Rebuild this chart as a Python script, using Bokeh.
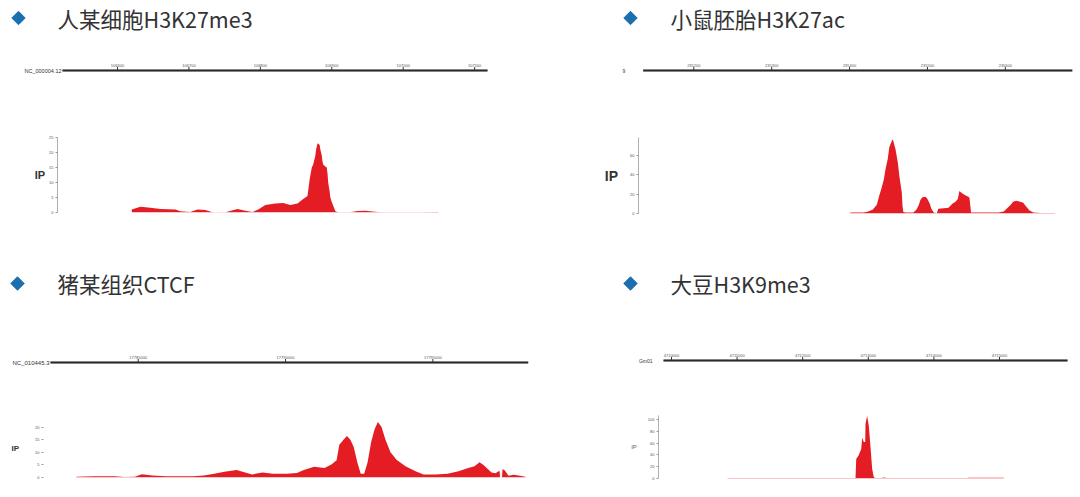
import math
from bokeh.plotting import figure
from bokeh.layouts import column, row
from bokeh.models import Range1d, FixedTicker, Label, LinearAxis
from bokeh.core.properties import value
from bokeh.embed import file_html
from bokeh.resources import INLINE

# ---------------- data ----------------
TITLES = ["人某细胞H3K27me3", "小鼠胚胎H3K27ac", "猪某组织CTCF", "大豆H3K9me3"]
CHROMS = ["NC_000004.12", "9", "NC_010445.3", "Gm01"]

# region shown on each ruler (genomic start / end)
TL_region = [106523, 107118]
TR_region = [235135, 235686]
BL_region = [17782023, 17798237]
BR_region = [4709878, 4716037]

# ruler ticks and labels
TL_ticks = [106600, 106700, 106800, 106900, 107000, 107100]
TL_tick_labels = ["106600", "106700", "106800", "106900", "107000", "107100"]
TR_ticks = [235200, 235300, 235400, 235500, 235600]
TR_tick_labels = ["235200", "235300", "235400", "235500", "235600"]
BL_ticks = [17785000, 17790000, 17795000]
BL_tick_labels = ["17785000", "17790000", "17795000"]
BR_ticks = [4710000, 4711000, 4712000, 4713000, 4714000, 4715000]
BR_tick_labels = ["4710000", "4711000", "4712000", "4713000", "4714000", "4715000"]

# IP y-axis ticks
TL_yticks = [0, 5, 10, 15, 20, 25]
TR_yticks = [0, 20, 40, 60]
BL_yticks = [0, 5, 10, 15, 20]
BR_yticks = [0, 20, 40, 60, 80, 100]

# IP signal (position, value)
TL_x = [106620, 106632, 106646, 106660, 106681, 106688, 106702, 106712, 106723, 106733,
        106751, 106768, 106779, 106789, 106797, 106807, 106821, 106832, 106842, 106852,
        106860, 106866, 106869, 106872, 106874, 106877, 106878, 106880, 106881, 106883,
        106884, 106886, 106887, 106888, 106890, 106893, 106894, 106895, 106897, 106898,
        106900, 106905, 106909, 106926, 106936, 106947, 106957, 106968, 107024, 107049]
TL_y = [1.0, 1.9, 1.6, 1.2, 1.0, 0.4, 0.2, 1.0, 0.8, 0.1,
        0.1, 1.2, 0.6, 0.2, 1.0, 2.5, 3.0, 3.2, 2.5, 3.0,
        4.5, 5.5, 11, 15, 16, 19, 21, 23, 23, 22.5,
        21, 19, 17, 16, 15.5, 15, 13, 10, 7, 5,
        3.5, 0.4, 0.1, 0.1, 0.5, 0.6, 0.3, 0.05, 0.1, 0.2]

TR_x = [235401, 235418, 235424, 235430, 235435, 235438, 235441, 235444, 235446, 235449,
        235451, 235454, 235455, 235456, 235459, 235462, 235464, 235467, 235468, 235469,
        235472, 235482, 235486, 235489, 235491, 235494, 235498, 235500, 235503, 235505,
        235508, 235512, 235514, 235521, 235527, 235532, 235536, 235539, 235541, 235544,
        235548, 235553, 235554, 235556, 235568, 235591, 235598, 235603, 235607, 235610,
        235614, 235619, 235623, 235627, 235631, 235636, 235645, 235664]
TR_y = [1, 1, 2, 4, 9, 18, 26, 35, 45, 56,
        68, 74, 76, 75, 66, 52, 38, 22, 8, 1.5,
        1, 1, 4, 9, 14, 17, 17, 15, 10, 5,
        1, 0.3, 5, 5.5, 6, 10, 12, 15, 23, 21,
        19, 17, 16, 1, 1, 1, 2, 6, 9, 12,
        13, 12, 11, 7, 3, 1, 0.5, 0.5]

BL_x = [17782899, 17783483, 17784189, 17784535, 17784888, 17785122, 17785475, 17785944,
        17786409, 17786877, 17787230, 17787579, 17787929, 17788340, 17788632, 17788866,
        17789219, 17789568, 17790037, 17790386, 17790620, 17790973, 17791323, 17791557,
        17791734, 17791825, 17791968, 17792083, 17792202, 17792318, 17792436, 17792552,
        17792670, 17792786, 17792905, 17793020, 17793135, 17793258, 17793393, 17793563,
        17793767, 17794072, 17794412, 17794683, 17795090, 17795498, 17795871, 17796176,
        17796414, 17796584, 17796720, 17796855, 17796991, 17797127, 17797229, 17797269,
        17797280, 17797347, 17797364, 17797432, 17797568, 17797738, 17797907, 17798145]
BL_y = [0.3, 0.5, 0.5, 0.2, 0.3, 1.3, 0.8, 0.5,
        0.5, 0.5, 0.8, 1.5, 2.3, 3, 2, 1.2,
        2, 1.5, 1.5, 1.8, 3, 4.3, 3.8, 5.2,
        6.8, 13, 15, 16.5, 15, 12, 6, 1.5,
        1.5, 6, 14, 19, 22, 20, 15, 10,
        7, 4.5, 2.5, 1.2, 1.2, 1.5, 2.5, 3.7,
        4.5, 6, 5, 3.5, 2, 1.7, 2.5, 2.5,
        0, 0, 3.3, 3, 0.7, 1.1, 0.8, 0.3]

BR_x = [4710854, 4712805, 4712816, 4712855, 4712892, 4712907, 4712931, 4712953, 4712957,
        4712983, 4713008, 4713034, 4713059, 4713084, 4713110, 4713200, 4713236, 4713280,
        4713338, 4714508, 4714520, 4715066]
BR_y = [1, 1, 33, 40, 50, 69, 62, 62, 93,
        106, 89, 53, 16, 2, 1, 1, 1.8, 1,
        0.8, 0.8, 1.2, 1.2]

# ---------------- style / layout ----------------
BLUE = "#1c6fae"
RED = "#e31d23"
TITLE_COLOR = "#333333"
PANEL_W = 540
SMALL_FONT = value("Liberation Sans")
HAS_ORIENT = "axis_label_orientation" in LinearAxis.properties()


def scale(g0, p0, bpp):
    # genomic position at a given page-pixel column
    return lambda px: g0 + (px - p0) * bpp


def base_fig(h, xr, yr, **kw):
    p = figure(width=PANEL_W, height=h, x_range=xr, y_range=yr,
               toolbar_location=None, output_backend="svg",
               outline_line_color=None, background_fill_color="white",
               border_fill_color="white", **kw)
    p.grid.grid_line_color = None
    return p


def header_fig(title, h, ty, dx, tx):
    p = base_fig(h, Range1d(0, PANEL_W), Range1d(h, 0),
                 x_axis_location=None, y_axis_location=None,
                 min_border_left=0, min_border_right=0,
                 min_border_top=0, min_border_bottom=0)
    p.scatter(x=[dx], y=[ty], marker="square", angle=math.pi / 4, size=9.5,
              fill_color=BLUE, line_color=BLUE)
    p.text(x=[tx], y=[ty], text=[title], text_font=value("Noto Sans CJK SC"),
           text_font_size="21.5px", text_baseline="middle", text_align="left",
           text_color=TITLE_COLOR)
    return p


def ruler_fig(h, yl, sc, x0, region, ticks, labels, chrom, chrom_size, chrom_gap):
    xr = Range1d(sc(x0), sc(x0 + PANEL_W))
    p = base_fig(h, xr, Range1d(h, 0),
                 x_axis_location=None, y_axis_location=None,
                 min_border_left=0, min_border_right=0,
                 min_border_top=0, min_border_bottom=0)
    n = len(ticks)
    p.segment(x0=[region[0]], y0=[yl], x1=[region[1]], y1=[yl],
              line_width=3.0, line_color="#a5a5a5")
    p.segment(x0=[region[0]], y0=[yl], x1=[region[1]], y1=[yl],
              line_width=1.3, line_color="#2a2a2a")
    p.segment(x0=ticks, y0=[yl] * n, x1=ticks, y1=[yl - 3.5] * n,
              line_width=1, line_color="#333333")
    p.text(x=ticks, y=[yl - 4] * n, text=labels, text_font=SMALL_FONT,
           text_font_size="4px", text_align="center", text_baseline="bottom",
           text_color="#555555")
    p.text(x=[region[0]], y=[yl], text=[chrom], text_font=SMALL_FONT,
           text_font_size=chrom_size, text_align="right", text_baseline="middle",
           x_offset=-chrom_gap, text_color="#333333")
    return p


def signal_fig(h, top, frame_h, axis_px, sc, x0, ymax, xs, ys, yticks,
               axis_line, ip_size, ip_bold, ip_color, ip_gap):
    xr = Range1d(sc(axis_px), sc(x0 + PANEL_W))
    p = base_fig(h, xr, Range1d(0, ymax),
                 x_axis_location=None, y_axis_location="left",
                 min_border_left=int(round(axis_px - x0)), min_border_right=0,
                 min_border_top=top, min_border_bottom=h - top - frame_h)
    p.varea(x=xs, y1=[0] * len(xs), y2=ys, fill_color=RED)
    ax = p.yaxis[0]
    ax.ticker = FixedTicker(ticks=yticks)
    ax.major_label_text_font_size = "4px"
    ax.major_label_text_font = "Liberation Sans"
    ax.major_label_text_color = "#555555"
    ax.major_label_standoff = 2
    ax.major_tick_out = 2
    ax.major_tick_in = 0
    ax.minor_tick_line_color = None
    ax.major_tick_line_color = "#999999"
    ax.axis_line_color = "#b0b0b0" if axis_line else None
    if HAS_ORIENT:
        ax.axis_label = "IP"
        ax.axis_label_orientation = "horizontal"
        ax.axis_label_text_font_size = ip_size
        ax.axis_label_text_font = "Liberation Sans"
        ax.axis_label_text_font_style = "bold" if ip_bold else "normal"
        ax.axis_label_text_color = ip_color
        ax.axis_label_standoff = ip_gap
    else:
        p.add_layout(Label(x=xr.start, y=ymax / 2, text="IP", x_offset=-14,
                           text_font_size=ip_size,
                           text_font_style="bold" if ip_bold else "normal",
                           text_font="Liberation Sans", text_color=ip_color,
                           text_align="right", text_baseline="middle"))
    return p


sTL = scale(106600, 117, 1.4)
sTR = scale(235200, 693.3, 1.284)
sBL = scale(17785000, 137.7, 33.94)
sBR = scale(4710000, 671, 15.244)

# top-left panel (page rows 0-260)
tl = [header_fig(TITLES[0], 48, 17.5, 18, 57),
      ruler_fig(42, 22, sTL, 0, TL_region, TL_ticks, TL_tick_labels, CHROMS[0], "5.5px", 1),
      signal_fig(170, 47, 75, 57, sTL, 0, 25, TL_x, TL_y, TL_yticks, True,
                 "11px", True, "#333333", 1)]
# top-right panel
tr = [header_fig(TITLES[1], 48, 17.5, 90, 130),
      ruler_fig(42, 22, sTR, 540, TR_region, TR_ticks, TR_tick_labels, CHROMS[1], "5px", 18),
      signal_fig(170, 47, 76, 638, sTR, 540, 78, TR_x, TR_y, TR_yticks, True,
                 "14px", True, "#333333", 9)]
# bottom-left panel (page rows 260-496)
bl = [header_fig(TITLES[2], 70, 23, 17, 57),
      ruler_fig(52, 32, sBL, 0, BL_region, BL_ticks, BL_tick_labels, CHROMS[2], "6px", 1),
      signal_fig(114, 37, 58, 43, sBL, 0, 23, BL_x, BL_y, BL_yticks, False,
                 "8px", True, "#333333", 13)]
# bottom-right panel
br = [header_fig(TITLES[3], 70, 23, 90, 130),
      ruler_fig(52, 30, sBR, 540, BR_region, BR_ticks, BR_tick_labels, CHROMS[3], "5px", 11),
      signal_fig(114, 33, 63, 658, sBR, 540, 107, BR_x, BR_y, BR_yticks, True,
                 "6px", False, "#666666", 8)]

# each figure sits in its own row so that the column does not line up their frames
left = column(*[row(f) for f in tl + bl], spacing=0)
right = column(*[row(f) for f in tr + br], spacing=0)
layout = row(left, right, spacing=0)

open("out.html", "w").write(file_html(layout, INLINE))
